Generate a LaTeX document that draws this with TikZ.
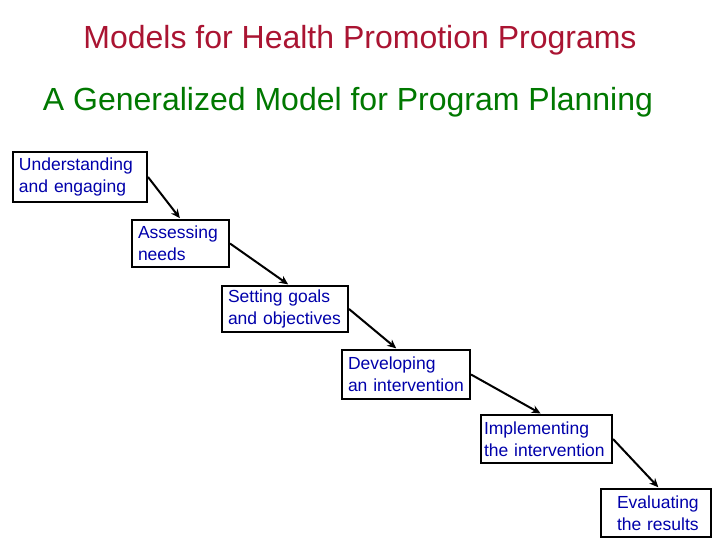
\documentclass[tikz,border=0pt]{standalone}
\usepackage{fontspec}
\setmainfont{Liberation Sans}
\usetikzlibrary{positioning,arrows.meta}
\definecolor{titlered}{RGB}{170,20,50}
\definecolor{titlegreen}{RGB}{0,120,0}
\definecolor{stepblue}{RGB}{0,0,170}
\tikzset{
  stepbox/.style={draw=black, line width=2pt, anchor=north west, align=left,
    font=\fontsize{17.5}{22}\selectfont, text=stepblue, inner xsep=6pt, inner ysep=3pt},
  steparrow/.style={-{Stealth[length=9pt,width=8pt]}, line width=2pt, shorten >=1pt}
}
\begin{document}
\begin{tikzpicture}[x=1pt,y=-1pt]
  \useasboundingbox (0,0) rectangle (720,540);
  \node[text=titlered, font=\fontsize{32}{36}\selectfont] (title) at (360,40) {Models for Health Promotion Programs};
  \node[text=titlegreen, font=\fontsize{32}{36}\selectfont] (subtitle) at (348,102) {A Generalized Model for Program Planning};
  % the six steps
  \node[stepbox, text width=122pt, minimum height=50pt] (under) at (12,151) {Understanding\\and engaging};
  \node[stepbox, text width=85pt, minimum height=47pt] (assess) at (131,219) {Assessing\\needs};
  \node[stepbox, text width=114pt, minimum height=46pt] (goals) at (221,285) {Setting goals\\and objectives};
  \node[stepbox, text width=116pt, minimum height=49pt] (develop) at (341,349) {Developing\\an intervention};
  \node[stepbox, text width=125pt, minimum height=48pt, inner xsep=3pt] (implement) at (480,414) {Implementing\\the intervention};
  \node[stepbox, text width=100pt, minimum height=48pt, inner xsep=5pt] (evaluate) at (600,488) {\hspace*{11pt}Evaluating\\\hspace*{11pt}the results};
  % arrows
  \draw[steparrow] (under.east) -- (assess.north);
  \draw[steparrow] (assess.east) -- ([xshift=4pt]goals.north);
  \draw[steparrow] (goals.east) -- ([xshift=-9pt]develop.north);
  \draw[steparrow] (develop.east) -- ([xshift=-5pt]implement.north);
  \draw[steparrow] (implement.east) -- ([xshift=3pt]evaluate.north);
\end{tikzpicture}
\end{document}
